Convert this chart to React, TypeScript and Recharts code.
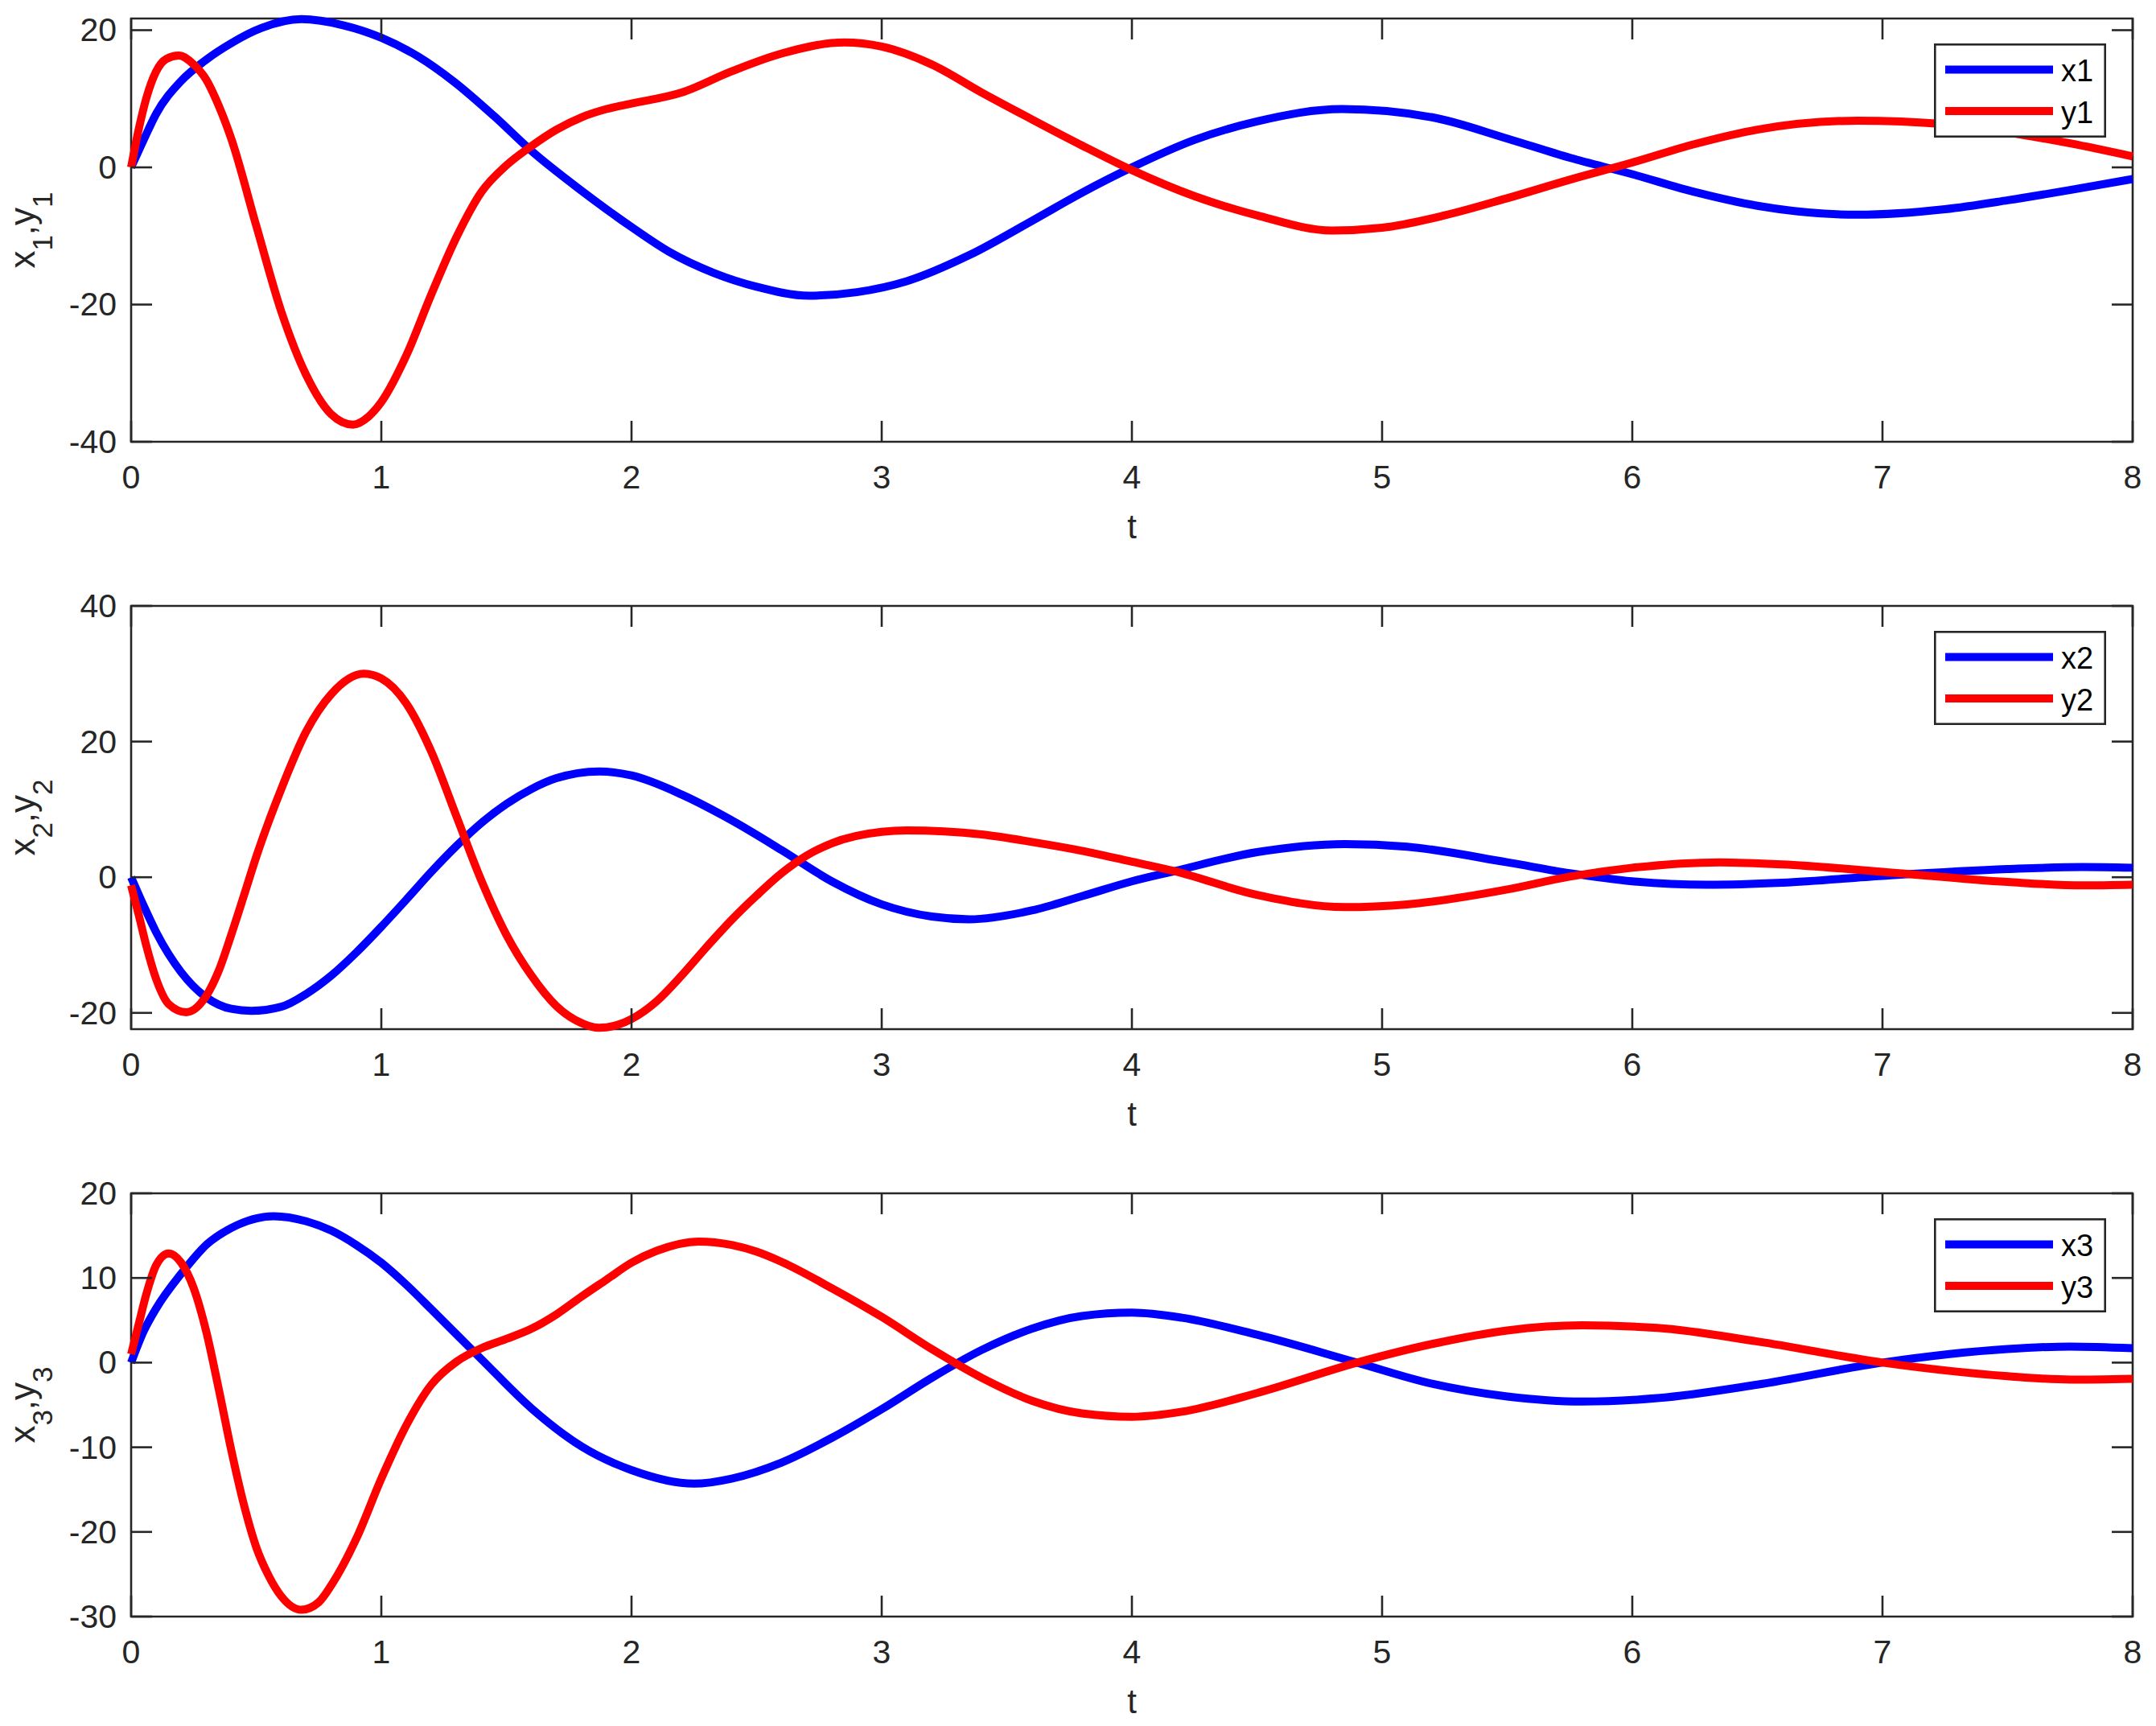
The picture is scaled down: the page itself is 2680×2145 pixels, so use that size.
import { LineChart, Line, XAxis, YAxis, ReferenceArea, Label } from 'recharts';

// time samples and values, one pair of arrays per curve
const T_X1 = [0, 0.05, 0.1, 0.2, 0.3, 0.4, 0.52, 0.68, 0.85, 1.0, 1.15, 1.29, 1.45, 1.6, 1.8, 2.0, 2.15, 2.33, 2.5, 2.71, 2.9, 3.1, 3.35, 3.61, 3.8, 4.0, 4.25, 4.5, 4.84, 5.2, 5.5, 5.75, 6.0, 6.25, 6.5, 6.9, 7.25, 7.5, 7.75, 8.0];
const X1 = [0, 4.0, 7.8, 12.6, 15.7, 18.1, 20.3, 21.6, 20.7, 18.9, 16.1, 12.5, 7.5, 2.4, -3.4, -8.7, -12.3, -15.4, -17.4, -18.7, -18.2, -16.6, -12.8, -7.6, -3.7, 0, 4, 6.7, 8.5, 7.3, 4.2, 1.4, -1.0, -3.6, -5.6, -6.9, -6.1, -4.8, -3.3, -1.7];

const T_Y1 = [0, 0.03, 0.06, 0.1, 0.14, 0.19, 0.25, 0.3, 0.35, 0.4, 0.5, 0.6, 0.7, 0.8, 0.886, 0.95, 1.0, 1.1, 1.2, 1.3, 1.4, 1.5, 1.6, 1.7, 1.8, 1.9, 2.0, 2.2, 2.4, 2.6, 2.85, 3.0, 3.2, 3.4, 3.6, 3.8, 4.0, 4.25, 4.5, 4.8, 5.0, 5.25, 5.5, 5.75, 6.0, 6.25, 6.5, 6.9, 7.25, 7.5, 7.75, 8.0];
const Y1 = [0, 5.5, 10, 14, 15.8, 16.3, 15, 12.8, 9, 4.2, -8.5, -21, -30.3, -36, -37.5, -36.3, -34.2, -27.4, -18.5, -10.2, -3.6, 0.3, 3.1, 5.5, 7.3, 8.5, 9.3, 10.9, 14, 16.6, 18.2, 17.6, 15, 10.9, 7, 3.2, -0.4, -4.2, -7, -9.2, -8.8, -7, -4.5, -1.8, 0.7, 3.4, 5.5, 6.8, 6.3, 5.1, 3.5, 1.6];

const T_X2 = [0, 0.05, 0.1, 0.2, 0.3, 0.4, 0.48, 0.6, 0.7, 0.8, 0.9, 1.0, 1.1, 1.2, 1.3, 1.4, 1.5, 1.6, 1.7, 1.87, 2.0, 2.2, 2.4, 2.6, 2.8, 3.0, 3.2, 3.35, 3.6, 3.8, 4.0, 4.17, 4.5, 4.85, 5.1, 5.5, 5.75, 6.0, 6.3, 6.6, 7.0, 7.5, 7.8, 8.0];
const X2 = [0, -4.2, -8.1, -14, -17.7, -19.4, -19.7, -19.1, -17.2, -14.5, -11.1, -7.3, -3.3, 0.8, 4.6, 8, 10.8, 13, 14.6, 15.6, 15, 12.2, 8.4, 4.0, -0.6, -4.0, -5.8, -6.2, -4.9, -2.8, -0.6, 0.9, 3.7, 4.9, 4.5, 2.2, 0.6, -0.6, -1.1, -0.8, 0.2, 1.2, 1.5, 1.4];

const T_Y2 = [0, 0.03, 0.06, 0.1, 0.15, 0.22, 0.3, 0.35, 0.4, 0.45, 0.5, 0.6, 0.7, 0.8, 0.93, 1.0, 1.1, 1.2, 1.3, 1.4, 1.5, 1.6, 1.7, 1.8, 1.87, 1.95, 2.0, 2.1, 2.2, 2.3, 2.4, 2.5, 2.6, 2.7, 2.8, 3.0, 3.1, 3.4, 3.6, 3.8, 4.0, 4.17, 4.5, 4.85, 5.1, 5.5, 5.75, 6.0, 6.35, 6.6, 7.0, 7.5, 7.8, 8.0];
const Y2 = [-1.2, -5.5, -10, -15, -18.7, -19.9, -17.5, -13.8, -8.5, -2.8, 3, 13, 21.5, 27, 30, 29.3, 25.6, 18.5, 9, -0.5, -8.5, -14.5, -19, -21.5, -22.2, -21.7, -20.9, -18.3, -14.5, -10.3, -6.3, -2.7, 0.6, 3.2, 5, 6.7, 6.9, 6.3, 5.2, 3.9, 2.3, 0.9, -2.6, -4.4, -4.0, -1.8, 0.1, 1.4, 2.2, 1.9, 0.8, -0.7, -1.2, -1.1];

const T_X3 = [0, 0.05, 0.1, 0.2, 0.3, 0.4, 0.57, 0.7, 0.8, 0.9, 1.0, 1.1, 1.2, 1.4, 1.6, 1.8, 2.0, 2.25, 2.4, 2.6, 2.8, 3.0, 3.2, 3.4, 3.6, 3.8, 4.0, 4.2, 4.5, 4.9, 5.2, 5.5, 5.8, 6.1, 6.5, 7.0, 7.5, 7.75, 8.0];
const X3 = [0, 3.7, 6.4, 10.5, 13.9, 15.9, 17.3, 16.7, 15.6, 13.9, 11.8, 9.2, 6.3, 0.4, -5.4, -9.9, -12.7, -14.3, -13.7, -11.8, -8.9, -5.5, -1.8, 1.5, 4, 5.5, 5.9, 5.3, 3.3, 0, -2.5, -4, -4.6, -4.2, -2.6, 0, 1.6, 1.9, 1.7];

const T_Y3 = [0, 0.03, 0.06, 0.1, 0.15, 0.2, 0.25, 0.3, 0.35, 0.4, 0.45, 0.5, 0.55, 0.6, 0.68, 0.75, 0.8, 0.9, 1.0, 1.1, 1.2, 1.3, 1.4, 1.5, 1.6, 1.7, 1.8, 1.9, 2.0, 2.1, 2.27, 2.4, 2.5, 2.6, 2.8, 3.0, 3.2, 3.4, 3.6, 3.8, 4.0, 4.2, 4.5, 4.9, 5.2, 5.5, 5.8, 6.1, 6.5, 7.0, 7.5, 7.75, 8.0];
const Y3 = [1, 4.5, 8, 11.5, 12.9, 11.8, 8.8, 3.7, -3.1, -10.3, -16.7, -21.8, -25.2, -27.6, -29.2, -28.3, -26.3, -20.8, -13.7, -7.4, -2.6, 0.1, 1.7, 2.8, 4, 5.7, 7.8, 9.8, 11.8, 13.2, 14.3, 13.9, 13.1, 11.9, 8.8, 5.4, 1.6, -1.8, -4.5, -6, -6.4, -5.8, -3.6, 0, 2.2, 3.8, 4.4, 4.1, 2.5, 0, -1.6, -2, -1.9];

const T_TICKS = [0, 1, 2, 3, 4, 5, 6, 7, 8];
const Y_TICKS_1 = [-40, -20, 0, 20];
const Y_TICKS_2 = [-20, 0, 20, 40];
const Y_TICKS_3 = [-30, -20, -10, 0, 10, 20];
const Y_DOMAIN_1: [number, number] = [-40, 21.7];
const Y_DOMAIN_2: [number, number] = [-22.4, 40];
const Y_DOMAIN_3: [number, number] = [-30, 20];

const toPoints = (ts: number[], vs: number[]) => ts.map((t, i) => ({ t, v: vs[i] }));

const panels = [
  { n: 1, top: 23, yDomain: Y_DOMAIN_1, yTicks: Y_TICKS_1, x: toPoints(T_X1, X1), y: toPoints(T_Y1, Y1) },
  { n: 2, top: 753, yDomain: Y_DOMAIN_2, yTicks: Y_TICKS_2, x: toPoints(T_X2, X2), y: toPoints(T_Y2, Y2) },
  { n: 3, top: 1483, yDomain: Y_DOMAIN_3, yTicks: Y_TICKS_3, x: toPoints(T_X3, X3), y: toPoints(T_Y3, Y3) },
];

const W = 2680;
const H = 2145;
const LEFT = 163;
const RIGHT = 29;
const PLOT_W = W - LEFT - RIGHT;
const PLOT_H = 526;
const MARGIN_TOP = 23;
const CHART_H = 690;
const TICK_LEN = 26;
const AXIS = '#262626';
const FONT = '"Liberation Sans", Arial, Helvetica, sans-serif';
const BLUE = '#0000ff';
const RED = '#ff0000';
const LINE_W = 10;

const XTick = ({ x, y, payload }: any) => (
  <g>
    <line x1={x} y1={y} x2={x} y2={y - TICK_LEN} stroke={AXIS} strokeWidth={2.6} />
    <line x1={x} y1={y - PLOT_H} x2={x} y2={y - PLOT_H + TICK_LEN} stroke={AXIS} strokeWidth={2.6} />
    <text x={x} y={y + 58} textAnchor="middle" fontSize={41} fontFamily={FONT} fill={AXIS}>
      {payload.value}
    </text>
  </g>
);

const YTick = ({ x, y, payload }: any) => (
  <g>
    <line x1={x} y1={y} x2={x + TICK_LEN} y2={y} stroke={AXIS} strokeWidth={2.6} />
    <line x1={x + PLOT_W - TICK_LEN} y1={y} x2={x + PLOT_W} y2={y} stroke={AXIS} strokeWidth={2.6} />
    <text x={x - 18} y={y + 14} textAnchor="end" fontSize={41} fontFamily={FONT} fill={AXIS}>
      {payload.value}
    </text>
  </g>
);

const tLabel = ({ viewBox }: any) => {
  const vb = viewBox ?? {};
  return (
    <text x={(vb.x ?? LEFT) + (vb.width ?? PLOT_W) / 2} y={(vb.y ?? MARGIN_TOP + PLOT_H) + 120} textAnchor="middle" fontSize={42} fontFamily={FONT} fill={AXIS}>
      t
    </text>
  );
};

const yLabel = (n: number) => () => {
  const cx = 43;
  const cy = MARGIN_TOP + PLOT_H / 2;
  return (
    <text x={cx} y={cy} transform={`rotate(-90 ${cx} ${cy})`} textAnchor="middle" fontSize={44} fontFamily={FONT} fill={AXIS}>
      <tspan>x</tspan>
      <tspan fontSize={35} dy={22}>{n}</tspan>
      <tspan dy={-22}>,y</tspan>
      <tspan fontSize={35} dy={22}>{n}</tspan>
    </text>
  );
};

const LegendBox = ({ n, top }: { n: number; top: number }) => (
  <svg width={214} height={117} style={{ position: 'absolute', left: 2404, top: top + 31 }}>
    <rect x={1.3} y={1.3} width={211.4} height={114.4} fill="#fff" stroke={AXIS} strokeWidth={2.6} />
    <line x1={14} y1={32.5} x2={148} y2={32.5} stroke={BLUE} strokeWidth={LINE_W} />
    <line x1={14} y1={84} x2={148} y2={84} stroke={RED} strokeWidth={LINE_W} />
    <text x={158} y={47} fontSize={38} fontFamily={FONT} fill="#000">{`x${n}`}</text>
    <text x={158} y={98.5} fontSize={38} fontFamily={FONT} fill="#000">{`y${n}`}</text>
  </svg>
);

const App = () => (
  <div style={{ position: 'absolute', left: 0, top: 0, width: W, height: H, background: '#fff', overflow: 'hidden' }}>
    {panels.map((p) => (
      <div key={p.n} style={{ position: 'absolute', left: 0, top: p.top - MARGIN_TOP, width: W, height: CHART_H }}>
        <LineChart width={W} height={CHART_H} margin={{ top: MARGIN_TOP, right: RIGHT, left: 0, bottom: 0 }}>
          <XAxis
            dataKey="t"
            type="number"
            domain={[0, 8]}
            ticks={T_TICKS}
            interval={0}
            height={CHART_H - MARGIN_TOP - PLOT_H}
            tickSize={0}
            tickMargin={0}
            axisLine={false}
            tick={<XTick />}
          >
            <Label content={tLabel} />
          </XAxis>
          <YAxis
            type="number"
            domain={p.yDomain}
            ticks={p.yTicks}
            interval={0}
            width={LEFT}
            tickSize={0}
            tickMargin={0}
            axisLine={false}
            tick={<YTick />}
          >
            <Label content={yLabel(p.n)} />
          </YAxis>
          <ReferenceArea x1={0} x2={8} y1={p.yDomain[0]} y2={p.yDomain[1]} fill="none" fillOpacity={0} stroke={AXIS} strokeWidth={2.6} strokeOpacity={1} />
          <Line data={p.x} dataKey="v" name={`x${p.n}`} type="monotone" stroke={BLUE} strokeWidth={LINE_W} dot={false} isAnimationActive={false} />
          <Line data={p.y} dataKey="v" name={`y${p.n}`} type="monotone" stroke={RED} strokeWidth={LINE_W} dot={false} isAnimationActive={false} />
        </LineChart>
        <LegendBox n={p.n} top={MARGIN_TOP} />
      </div>
    ))}
  </div>
);

export default App;
